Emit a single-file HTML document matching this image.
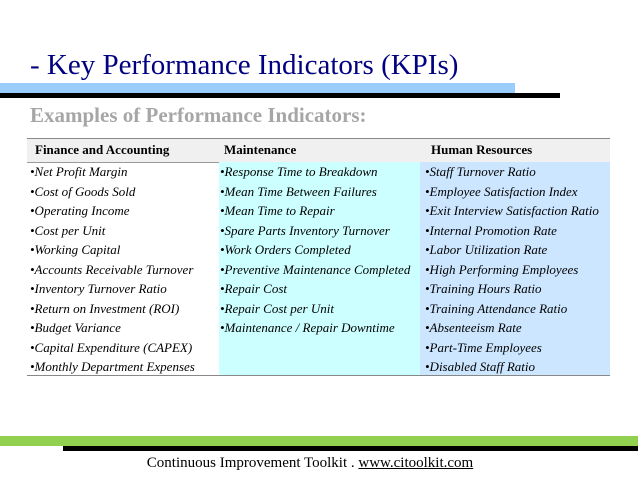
<!DOCTYPE html>
<html><head><meta charset="utf-8"><style>
body{margin:0;width:638px;height:478px;background:#fff;position:relative;overflow:hidden;font-family:"Liberation Serif",serif}
div{position:absolute}
.t{white-space:nowrap;font-size:13px;font-style:italic;color:#000;line-height:19.5px}
.h{font-size:13px;font-weight:bold;color:#000;top:142px;white-space:nowrap}
</style></head><body>
<div style="left:30px;top:49px;font-size:29px;color:#000080;white-space:nowrap">- Key Performance Indicators (KPIs)</div>
<div style="left:0;top:83px;width:515px;height:10px;background:#99ccff"></div>
<div style="left:0;top:93px;width:560px;height:5px;background:#000"></div>
<div style="left:30px;top:103px;font-size:21px;font-weight:bold;color:#a6a6a6;white-space:nowrap">Examples of Performance Indicators:</div>
<div style="left:27px;top:138px;width:583px;height:23px;background:#f0f0f0;border-top:1px solid #888;border-bottom:1px solid #999"></div>
<div style="left:219px;top:162px;width:201px;height:213px;background:#ccffff"></div>
<div style="left:420px;top:162px;width:190px;height:213px;background:#cce6ff"></div>
<div style="left:27px;top:375px;width:583px;height:1px;background:#888"></div>
<div class="h" style="left:35px">Finance and Accounting</div>
<div class="h" style="left:224px">Maintenance</div>
<div class="h" style="left:431px">Human Resources</div>
<div class="t" style="left:30px;top:162px">•Net Profit Margin<br>•Cost of Goods Sold<br>•Operating Income<br>•Cost per Unit<br>•Working Capital<br>•Accounts Receivable Turnover<br>•Inventory Turnover Ratio<br>•Return on Investment (ROI)<br>•Budget Variance<br>•Capital Expenditure (CAPEX)<br>•Monthly Department Expenses</div>
<div class="t" style="left:220px;top:162px">•Response Time to Breakdown<br>•Mean Time Between Failures<br>•Mean Time to Repair<br>•Spare Parts Inventory Turnover<br>•Work Orders Completed<br>•Preventive Maintenance Completed<br>•Repair Cost<br>•Repair Cost per Unit<br>•Maintenance / Repair Downtime</div>
<div class="t" style="left:425px;top:162px">•Staff Turnover Ratio<br>•Employee Satisfaction Index<br>•Exit Interview Satisfaction Ratio<br>•Internal Promotion Rate<br>•Labor Utilization Rate<br>•High Performing Employees<br>•Training Hours Ratio<br>•Training Attendance Ratio<br>•Absenteeism Rate<br>•Part-Time Employees<br>•Disabled Staff Ratio</div>
<div style="left:0;top:436px;width:638px;height:10px;background:#92d050"></div>
<div style="left:63px;top:446px;width:575px;height:5px;background:#000"></div>
<div style="left:0;width:620px;top:455px;text-align:center;font-size:15px;white-space:nowrap">Continuous Improvement Toolkit . <span style="text-decoration:underline">www.citoolkit.com</span></div>
</body></html>
